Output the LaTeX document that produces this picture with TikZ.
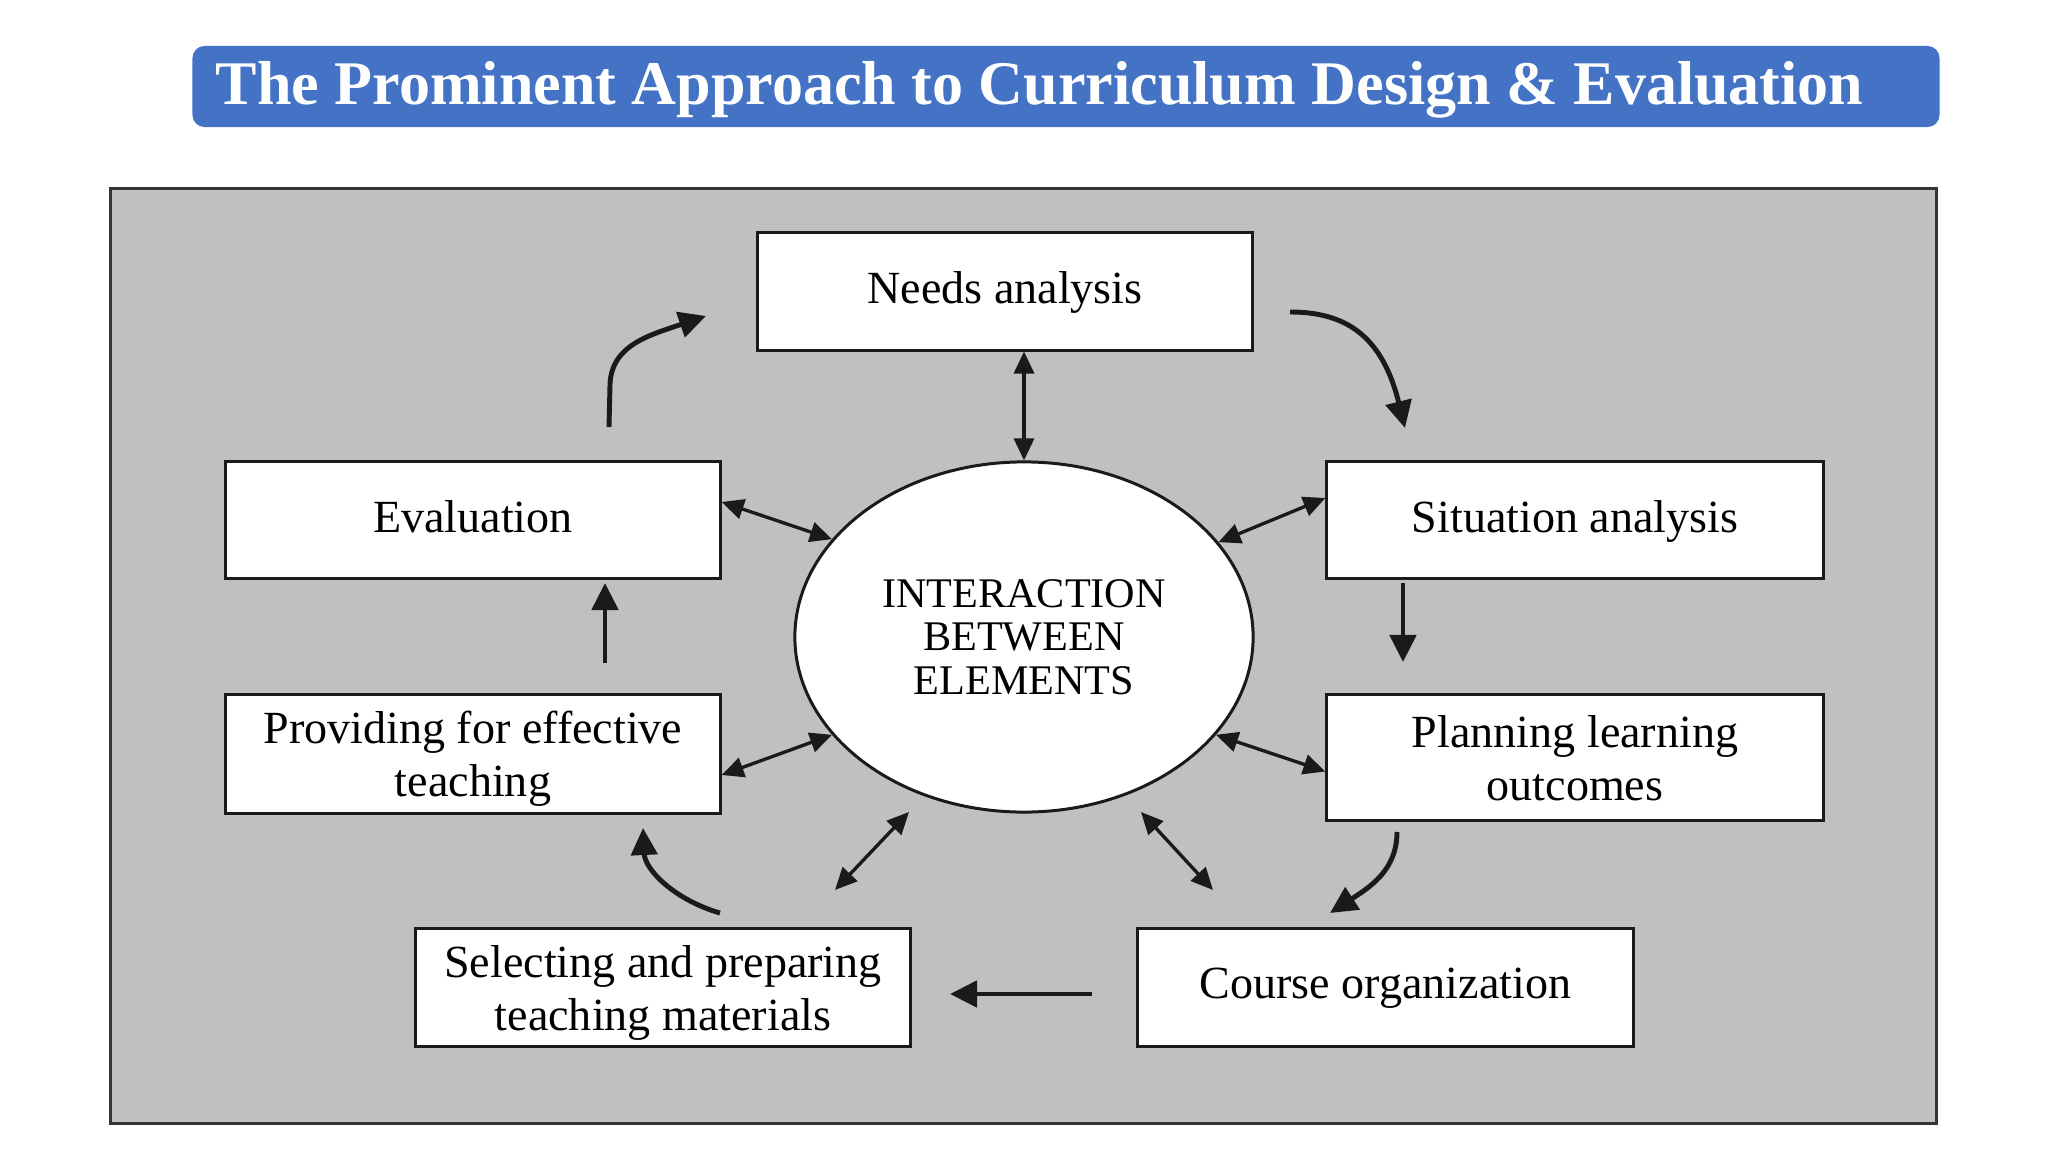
\documentclass[tikz,border=0pt]{standalone}
\usepackage{fontspec}
\setmainfont{Liberation Serif}
\usetikzlibrary{arrows.meta,shapes.geometric,calc}
\definecolor{titleblue}{HTML}{4472C4}
\definecolor{panelgray}{HTML}{C0C0C0}
\definecolor{ink}{HTML}{1A1A1A}
\definecolor{frame}{HTML}{353535}
\newcommand\firststrut{\rule{0pt}{12.1pt}}
\newcommand\laststrut{\rule[-2.8pt]{0pt}{0pt}}
\begin{document}
\begin{tikzpicture}[x=0.01cm,y=-0.01cm,
  box/.style={draw=ink, line width=0.85pt, fill=white, inner sep=0pt,
    font=\fontsize{13.1pt}{15pt}\selectfont},
  onel/.style={text depth=0.22em},
  twol/.style={align=center},
  bigarrow/.style={draw=ink, line width=1.4pt, -{Triangle[length=0.27cm,width=0.26cm]}},
  duo/.style={draw=ink, line width=0.95pt,
    {Triangle[length=0.22cm,width=0.2cm]}-{Triangle[length=0.22cm,width=0.2cm]}},
]
\fill[white] (0,0) rectangle (2048,1152);
\useasboundingbox (0,0) rectangle (2048,1152);

% title
\node[fill=titleblue, rounded corners=0.12cm, minimum width=17.46cm, minimum height=0.81cm, inner sep=0pt] (titlebar) at (1066,86.5) {};
\node[anchor=base west, inner sep=0pt, text=white, font=\fontsize{17.65pt}{20pt}\selectfont\bfseries] (titletext) at (215,105) {The Prominent Approach to Curriculum Design \& Evaluation};

% panel
\node[draw=frame, line width=1pt, fill=panelgray, minimum width=18.25cm, minimum height=9.34cm, inner sep=0pt] (panel) at (1023.5,656) {};

% boxes
\node[box, onel, minimum width=4.94cm, minimum height=1.17cm] (needs) at (1005,291.5) {Needs analysis};
\node[box, onel, minimum width=4.94cm, minimum height=1.16cm] (eval) at (473,520) {Evaluation};
\node[box, onel, minimum width=4.96cm, minimum height=1.16cm] (sit) at (1575,520) {Situation analysis};
\node[box, twol, minimum width=4.94cm, minimum height=1.18cm] (prov) at (473,754) {\firststrut Providing for effective\\teaching\laststrut};
\node[box, twol, minimum width=4.96cm, minimum height=1.25cm] (plan) at (1575,757.5) {\firststrut Planning learning\\outcomes\laststrut};
\node[box, twol, minimum width=4.95cm, minimum height=1.18cm] (sel) at (663,987.5) {\firststrut Selecting and preparing\\teaching materials\laststrut};
\node[box, onel, minimum width=4.95cm, minimum height=1.18cm] (course) at (1385.5,987.5) {Course organization};

% centre ellipse
\node[ellipse, draw=ink, line width=0.85pt, fill=white, minimum width=4.58cm, minimum height=3.5cm, inner sep=0pt, align=center, font=\fontsize{12pt}{12.3pt}\selectfont] (inter) at (1024,637) {INTERACTION\\BETWEEN\\ELEMENTS};

% two-way arrows with the centre
\draw[duo] (inter.north |- needs.south) -- (inter.north);
\draw[duo] ($(eval.east)+(0,-18)$) -- (inter.153);
\draw[duo] ($(sit.west)+(0,-22)$) -- (inter.26);
\draw[duo] ($(prov.east)+(0,21)$) -- (inter.207);
\draw[duo] ($(plan.west)+(0,14)$) -- (inter.333);
\coordinate (d1a) at (909,812);
\coordinate (d1b) at (835,890);
\draw[duo] (d1a) -- (d1b);
\coordinate (d2a) at (1141,812);
\coordinate (d2b) at (1213,890);
\draw[duo] (d2a) -- (d2b);

% cycle arrows
\coordinate (c1s) at (609,427);
\coordinate (c1e) at (706,316);
\draw[bigarrow] (c1s) -- (610,385) .. controls (611,345) and (650,335) .. (c1e);
\coordinate (c2s) at (1290,312);
\coordinate (c2e) at (1405,428);
\draw[bigarrow] (c2s) .. controls (1345,312) and (1382,335) .. (c2e);
\coordinate (c3s) at (1403,583);
\coordinate (c3e) at (1403,662);
\draw[bigarrow] (c3s) -- (c3e);
\coordinate (c4s) at (1397,832);
\coordinate (c4e) at (1330,913);
\draw[bigarrow] (c4s) .. controls (1397,870) and (1370,887) .. (c4e);
\coordinate (c5s) at (1092,994);
\coordinate (c5e) at (950,994);
\draw[bigarrow] (c5s) -- (c5e);
\coordinate (c6s) at (720,913);
\coordinate (c6e) at (643,828);
\draw[bigarrow] (c6s) .. controls (675,900) and (645,870) .. (c6e);
\coordinate (c7s) at (605,663);
\coordinate (c7e) at (605,583);
\draw[bigarrow] (c7s) -- (c7e);
\end{tikzpicture}
\end{document}
